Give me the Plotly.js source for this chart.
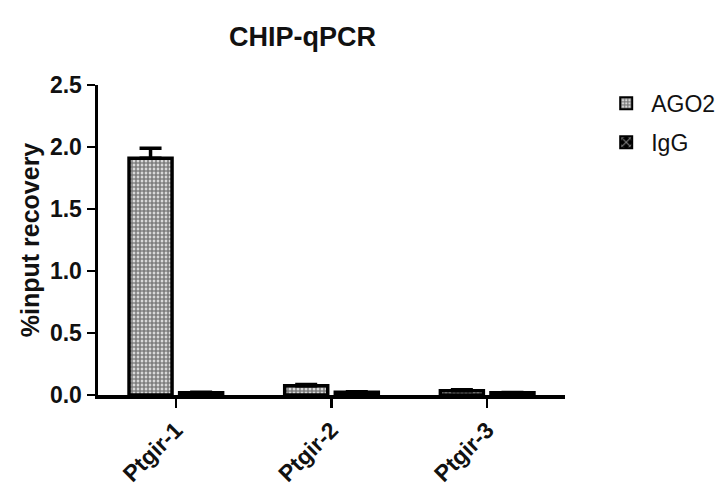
<!DOCTYPE html>
<html>
<head>
<meta charset="utf-8">
<script src="https://cdn.plot.ly/plotly-3.0.1.min.js"></script>
<style>
  html, body { margin: 0; padding: 0; background: #fff; }
  #chart { width: 720px; height: 493px; }
</style>
</head>
<body>
<div id="chart"></div>
<script>
// values
const genes = ['Ptgir-1', 'Ptgir-2', 'Ptgir-3'];
const ago2 = [1.91, 0.075, 0.035];
const ago2Err = [0.08, 0.01, 0.008];
const igg = [0.018, 0.022, 0.018];
const iggErr = [0.004, 0.004, 0.003];
const noErr = [0, 0, 0];

const font = 'Arial, "Liberation Sans", sans-serif';

var ago2Trace = {
    name: 'AGO2',
    legendgroup: 'ago2',
    type: 'bar',
    x: genes,
    y: ago2,
    marker: {
        color: '#ffffff',
        line: { color: '#000', width: 3.5 },
        pattern: { shape: '.', fgcolor: '#000', bgcolor: '#fff', size: 4, solidity: 0.75, fillmode: 'overlay' }
    },
    error_y: { type: 'data', symmetric: false, array: ago2Err, arrayminus: noErr, color: '#000', thickness: 3.5, width: 11 }
};

var iggTrace = {
    name: 'IgG',
    legendgroup: 'igg',
    type: 'bar',
    x: genes,
    y: igg,
    marker: {
        color: '#000',
        line: { color: '#000', width: 3.5 },
        pattern: { shape: 'x', fgcolor: '#fff', bgcolor: '#000', size: 7, solidity: 0.35, fillmode: 'overlay' }
    },
    error_y: { type: 'data', symmetric: false, array: iggErr, arrayminus: noErr, color: '#000', thickness: 3.5, width: 11 }
};

const layout = {
    width: 720,
    height: 493,
    paper_bgcolor: '#fff',
    plot_bgcolor: '#fff',
    margin: { l: 98, r: 155, t: 85, b: 98, autoexpand: false },
    font: { family: font, color: '#000' },
    title: {
        text: '<b>CHIP-qPCR</b>',
        font: { family: font, size: 27, color: '#111' },
        x: 0.42, xref: 'container', xanchor: 'center',
        y: 0.925, yref: 'container', yanchor: 'middle'
    },
    barmode: 'group',
    bargap: 0.35,
    bargroupgap: 0.15,
    showlegend: true,
    legend: {
        x: 0.835, xref: 'container', xanchor: 'left',
        y: 1.01, yanchor: 'top',
        font: { family: font, size: 23, color: '#111' },
        itemsizing: 'constant',
        itemwidth: 40,
        tracegroupgap: 6
    },
    xaxis: {
        range: [-0.5, 2.5],
        showline: true, linecolor: '#000', linewidth: 3.5,
        ticks: 'outside', ticklen: 9, tickwidth: 2.5, tickcolor: '#000',
        tickangle: -45,
        tickfont: { family: font, size: 23, color: '#111', weight: 'bold' },
        showgrid: false, zeroline: false, fixedrange: true
    },
    yaxis: {
        range: [0, 2.5],
        dtick: 0.5,
        tickformat: '.1f',
        showline: true, linecolor: '#000', linewidth: 3.5,
        ticks: 'outside', ticklen: 8, tickwidth: 2.5, tickcolor: '#000',
        tickfont: { family: font, size: 23, color: '#111', weight: 'bold' },
        title: { text: '<b>%input recovery</b>', font: { family: font, size: 25, color: '#111' }, standoff: 4 },
        showgrid: false, zeroline: false, fixedrange: true
    }
};

Plotly.newPlot('chart', [ago2Trace, iggTrace], layout, { displayModeBar: false, staticPlot: true });
</script>
</body>
</html>
